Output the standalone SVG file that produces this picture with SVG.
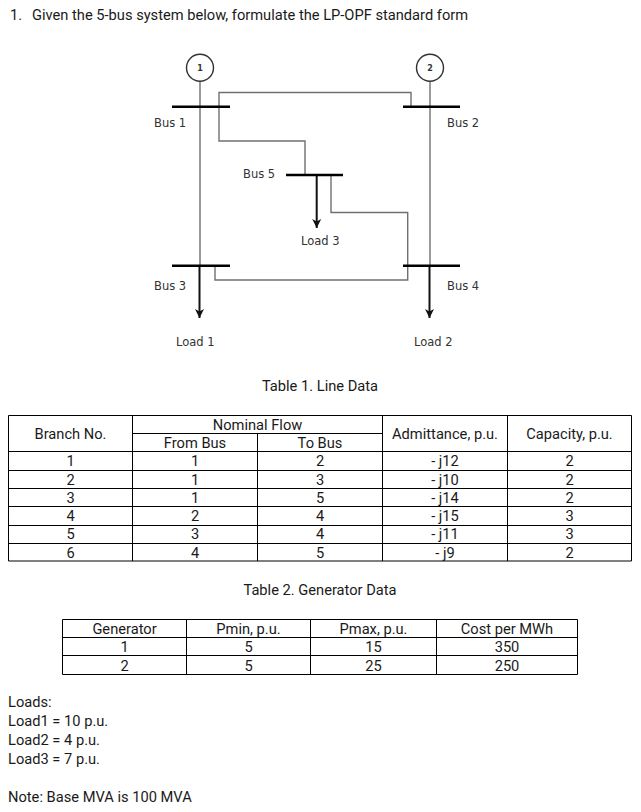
<svg xmlns="http://www.w3.org/2000/svg" width="641" height="812" viewBox="0 0 641 812">
<style>
text{font-family:Roboto,"Liberation Sans",sans-serif;fill:#1a1a1a}
.t{font-size:14.67px}
.c{font-size:14.67px;text-anchor:middle}
.d{font-size:11.5px;font-family:"DejaVu Sans",sans-serif;fill:#333}
.w{fill:none;stroke:#707070;stroke-width:1.4}
.bar{stroke:#000;stroke-width:2.6;fill:none}
.load{stroke:#111;stroke-width:2;fill:none}
.gen{fill:#fff;stroke:#333;stroke-width:1.4}
.g{font-size:8px;font-weight:bold;font-family:"DejaVu Sans",sans-serif;text-anchor:middle;fill:#333}
.tb{stroke:#000;stroke-width:1;fill:none}
</style>
<defs>
<marker id="ah" markerUnits="userSpaceOnUse" markerWidth="10" markerHeight="10" refX="9" refY="5" orient="auto"><path d="M0 0.5L9 5L0 9.5L2.5 5Z" fill="#111"/></marker>
</defs>
<rect width="641" height="812" fill="#fff"/>
<text class="t" x="10" y="20">1.</text>
<text class="t" x="32" y="20">Given the 5-bus system below, formulate the LP-OPF standard form</text>
<g id="connectors">
<path class="w" d="M200 81V265.7"/>
<path class="w" d="M430 81V265.7"/>
<path class="w" d="M411 106.7V92.5H219V141H305V175"/>
<path class="w" d="M331 175V212.5H407.7V280H215V265.7"/>
<path class="load" marker-end="url(#ah)" d="M316.7 175V228"/>
<path class="load" marker-end="url(#ah)" d="M199.5 265.7V318"/>
<path class="load" marker-end="url(#ah)" d="M429.5 265.7V318"/>
</g>
<g id="gen1"><circle class="gen" cx="200" cy="67.7" r="13.5"/><text class="g" x="200" y="70.5">1</text></g>
<g id="gen2"><circle class="gen" cx="430" cy="67.7" r="13.5"/><text class="g" x="430" y="70.5">2</text></g>
<g id="bus1"><path class="bar" d="M172 106.7H230"/><text class="d" x="154" y="127">Bus 1</text></g>
<g id="bus2"><path class="bar" d="M403 106.7H460"/><text class="d" x="447" y="127">Bus 2</text></g>
<g id="bus5"><path class="bar" d="M286 175H343"/><text class="d" x="243" y="178">Bus 5</text></g>
<g id="bus3"><path class="bar" d="M172 265.7H230"/><text class="d" x="154" y="290">Bus 3</text></g>
<g id="bus4"><path class="bar" d="M403 265.7H460"/><text class="d" x="447" y="290">Bus 4</text></g>
<g id="load1"><text class="d" x="176" y="345.5">Load 1</text></g>
<g id="load2"><text class="d" x="414" y="345.5">Load 2</text></g>
<g id="load3"><text class="d" x="301" y="244.5">Load 3</text></g>
<text class="c" x="320" y="391">Table 1. Line Data</text>
<g id="table1">
<path class="tb" d="M8.5 415.5H631.5V561H8.5ZM132.5 415.5V561M257.5 433.5V561M382.5 415.5V561M507.5 415.5V561M132.5 433.5H382.5M8.5 451.5H631.5M8.5 470.5H631.5M8.5 488.5H631.5M8.5 506.5H631.5M8.5 525.5H631.5M8.5 543.5H631.5"/>
<text class="c" x="70.5" y="439">Branch No.</text>
<text class="c" x="257.5" y="430">Nominal Flow</text>
<text class="c" x="195" y="448">From Bus</text>
<text class="c" x="320" y="448">To Bus</text>
<text class="c" x="445" y="439">Admittance, p.u.</text>
<text class="c" x="569.5" y="439">Capacity, p.u.</text>
<g><text class="c" x="70.5" y="466">1</text><text class="c" x="195" y="466">1</text><text class="c" x="320" y="466">2</text><text class="c" x="445" y="466">- j12</text><text class="c" x="569.5" y="466">2</text></g>
<g><text class="c" x="70.5" y="485">2</text><text class="c" x="195" y="485">1</text><text class="c" x="320" y="485">3</text><text class="c" x="445" y="485">- j10</text><text class="c" x="569.5" y="485">2</text></g>
<g><text class="c" x="70.5" y="503">3</text><text class="c" x="195" y="503">1</text><text class="c" x="320" y="503">5</text><text class="c" x="445" y="503">- j14</text><text class="c" x="569.5" y="503">2</text></g>
<g><text class="c" x="70.5" y="521">4</text><text class="c" x="195" y="521">2</text><text class="c" x="320" y="521">4</text><text class="c" x="445" y="521">- j15</text><text class="c" x="569.5" y="521">3</text></g>
<g><text class="c" x="70.5" y="539">5</text><text class="c" x="195" y="539">3</text><text class="c" x="320" y="539">4</text><text class="c" x="445" y="539">- j11</text><text class="c" x="569.5" y="539">3</text></g>
<g><text class="c" x="70.5" y="558">6</text><text class="c" x="195" y="558">4</text><text class="c" x="320" y="558">5</text><text class="c" x="445" y="558">- j9</text><text class="c" x="569.5" y="558">2</text></g>
</g>
<text class="c" x="320" y="595">Table 2. Generator Data</text>
<g id="table2">
<path class="tb" d="M62.5 619.5H577.5V674.5H62.5ZM186.5 619.5V674.5M310.5 619.5V674.5M436.5 619.5V674.5M62.5 637.5H577.5M62.5 655.5H577.5"/>
<text class="c" x="124.5" y="634">Generator</text><text class="c" x="248.5" y="634">Pmin, p.u.</text><text class="c" x="373.5" y="634">Pmax, p.u.</text><text class="c" x="507" y="634">Cost per MWh</text>
<text class="c" x="124.5" y="652">1</text><text class="c" x="248.5" y="652">5</text><text class="c" x="373.5" y="652">15</text><text class="c" x="507" y="652">350</text>
<text class="c" x="124.5" y="671">2</text><text class="c" x="248.5" y="671">5</text><text class="c" x="373.5" y="671">25</text><text class="c" x="507" y="671">250</text>
</g>
<text class="t" x="8" y="707">Loads:</text>
<text class="t" x="8" y="726">Load1 = 10 p.u.</text>
<text class="t" x="8" y="745">Load2 = 4 p.u.</text>
<text class="t" x="8" y="764">Load3 = 7 p.u.</text>
<text class="t" x="8" y="802">Note: Base MVA is 100 MVA</text>
</svg>
